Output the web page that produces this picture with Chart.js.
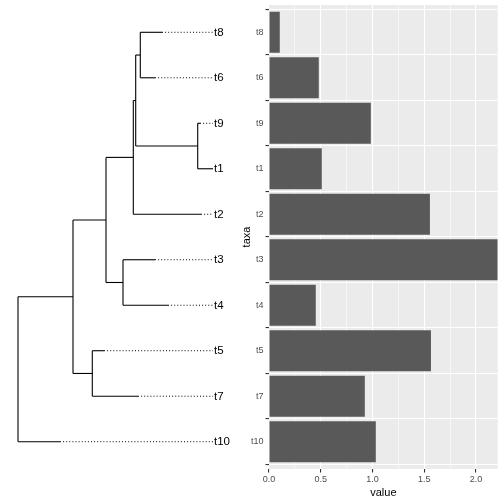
<!DOCTYPE html>
<html>
<head>
<meta charset="utf-8">
<script src="https://cdn.jsdelivr.net/npm/chart.js@4.4.1/dist/chart.umd.min.js"></script>
<style>
  body { margin: 0; background: #ffffff; }
  #wrap { position: relative; width: 504px; height: 504px; }
  #treeChart { position: absolute; left: 0; top: 0; }
  #barChart { position: absolute; left: 240px; top: 0; }
</style>
</head>
<body>
<div id="wrap">
  <canvas id="treeChart" width="240" height="504"></canvas>
  <canvas id="barChart" width="264" height="504"></canvas>
</div>
<script>
// taxa, top to bottom
const taxa = ["t8", "t6", "t9", "t1", "t2", "t3", "t4", "t5", "t7", "t10"];
const barValues = [0.104, 0.481, 0.984, 0.510, 1.555, 2.21, 0.452, 1.565, 0.926, 1.032];

// tree: tip depths (same order as taxa) and internal nodes
const tipDepth = [1.44, 1.37, 1.82, 1.95, 1.83, 1.37, 1.50, 0.86, 1.20, 0.42];
const nodeNames = ["root", "n1", "n2", "n3", "n4", "n5", "n6", "n7", "n8"];
const nodeDepth = [0, 0.55, 0.88, 1.153, 1.05, 1.177, 1.797, 1.223, 0.743];
const nodeChildren = [
    ["n1", "t10"],
    ["n2", "n8"],
    ["n3", "n4"],
    ["n5", "t2"],
    ["t3", "t4"],
    ["n7", "n6"],
    ["t9", "t1"],
    ["t8", "t6"],
    ["t5", "t7"]
];

const valueTicks = [0, 0.5, 1, 1.5, 2];
const minorTicks = [0.25, 0.75, 1.25, 1.75];
const valueMax = 2.21;

Chart.defaults.font.family = '"Liberation Sans", Arial, sans-serif';

function taxonPos(name) {
    return taxa.length - taxa.indexOf(name);
}

function depthOf(name) {
    const k = nodeNames.indexOf(name);
    if (k >= 0) return nodeDepth[k];
    return tipDepth[taxa.indexOf(name)];
}

function posOf(name) {
    const k = nodeNames.indexOf(name);
    if (k < 0) return taxonPos(name);
    const kids = nodeChildren[k];
    return (posOf(kids[0]) + posOf(kids[1])) / 2;
}

const alignX = Math.max.apply(null, tipDepth);
const labelX = alignX + 0.01;

// build tree segments
const treeSets = [];
function seg(x1, y1, x2, y2, dotted) {
    treeSets.push({
        data: [{ x: x1, y: y1 }, { x: x2, y: y2 }],
        showLine: true,
        borderColor: "#000000",
        borderWidth: dotted ? 1 : 1.1,
        borderDash: dotted ? [1, 2.1] : [],
        pointRadius: 0,
        pointHoverRadius: 0
    });
}

nodeNames.forEach(function (name, k) {
    const kids = nodeChildren[k];
    const x = nodeDepth[k];
    seg(x, posOf(kids[0]), x, posOf(kids[1]), false);
    kids.forEach(function (c) {
        seg(x, posOf(c), depthOf(c), posOf(c), false);
    });
});

taxa.forEach(function (t, i) {
    if (tipDepth[i] < alignX) {
        seg(tipDepth[i], taxonPos(t), alignX, taxonPos(t), true);
    }
});

const tipLabels = {
    id: "tipLabels",
    afterDatasetsDraw: function (chart) {
        const ctx = chart.ctx;
        const xs = chart.scales.x;
        const ys = chart.scales.y;
        ctx.save();
        ctx.font = '11.5px "Liberation Sans", Arial, sans-serif';
        ctx.fillStyle = "#000000";
        ctx.textBaseline = "middle";
        ctx.textAlign = "left";
        taxa.forEach(function (t) {
            ctx.fillText(t, xs.getPixelForValue(labelX), ys.getPixelForValue(taxonPos(t)) + 0.5);
        });
        ctx.restore();
    }
};

new Chart(document.getElementById("treeChart"), {
    type: "scatter",
    data: { datasets: treeSets },
    options: {
        responsive: false,
        animation: false,
        layout: { padding: { top: 5, bottom: 35, left: 0, right: 0 } },
        plugins: {
            legend: { display: false },
            tooltip: { enabled: false }
        },
        scales: {
            x: { type: "linear", min: -0.18, max: 2.22, display: false },
            y: { type: "linear", min: 0.4, max: 10.6, display: false }
        }
    },
    plugins: [tipLabels]
});

const panelBg = {
    id: "panelBg",
    beforeDraw: function (chart) {
        const a = chart.chartArea;
        chart.ctx.save();
        chart.ctx.fillStyle = "#EBEBEB";
        chart.ctx.fillRect(a.left, a.top, a.right - a.left, a.bottom - a.top);
        chart.ctx.restore();
    }
};

function isMajor(v) {
    return valueTicks.some(function (m) { return Math.abs(m - v) < 1e-9; });
}

new Chart(document.getElementById("barChart"), {
    type: "bar",
    data: {
        datasets: [
            {
                label: "value",
                data: taxa.map(function (t, i) {
                    return { x: barValues[i], y: taxonPos(t) };
                }),
                backgroundColor: "#595959",
                barPercentage: 0.9,
                categoryPercentage: 1
            }
        ]
    },
    options: {
        indexAxis: "y",
        responsive: false,
        animation: false,
        layout: { padding: { top: 5, right: 6.3, bottom: 0, left: 0 } },
        plugins: {
            legend: { display: false },
            tooltip: { enabled: false }
        },
        scales: {
            x: {
                type: "linear",
                min: 0,
                max: valueMax,
                afterBuildTicks: function (s) {
                    s.ticks = valueTicks.concat(minorTicks)
                        .sort(function (a, b) { return a - b; })
                        .map(function (v) { return { value: v }; });
                },
                afterFit: function (s) {
                    s.height = 35;
                    s.paddingLeft = 0;
                    s.paddingRight = 0;
                },
                ticks: {
                    autoSkip: false,
                    maxRotation: 0,
                    padding: 2,
                    color: "#4D4D4D",
                    font: { size: 9 },
                    callback: function (v) {
                        return isMajor(v) ? v.toFixed(1) : "";
                    }
                },
                grid: {
                    color: "#FFFFFF",
                    lineWidth: function (c) {
                        return isMajor(c.tick.value) ? 1.1 : 0.55;
                    },
                    tickColor: function (c) {
                        return isMajor(c.tick.value) ? "#333333" : "rgba(0,0,0,0)";
                    },
                    tickLength: 3.5,
                    tickWidth: 1.1
                },
                border: { display: false },
                title: {
                    display: true,
                    text: "value",
                    color: "#000000",
                    font: { size: 11 },
                    padding: { top: 0, bottom: 4 }
                }
            },
            y: {
                type: "linear",
                min: 0.4,
                max: 10.6,
                offset: false,
                afterBuildTicks: function (s) {
                    s.ticks = taxa.map(function (t) { return { value: taxonPos(t) }; });
                },
                afterFit: function (s) {
                    s.width = 29;
                    s.paddingTop = 0;
                    s.paddingBottom = 0;
                },
                ticks: {
                    autoSkip: false,
                    padding: 2,
                    color: "#4D4D4D",
                    font: { size: 9 },
                    callback: function (v) {
                        return taxa[taxa.length - v];
                    }
                },
                grid: {
                    color: "#FFFFFF",
                    lineWidth: 1.1,
                    tickColor: "#333333",
                    tickLength: 3.5,
                    tickWidth: 1.1
                },
                border: { display: false },
                title: {
                    display: true,
                    text: "taxa",
                    color: "#000000",
                    font: { size: 11 },
                    padding: { top: 0, bottom: 0 }
                }
            }
        }
    },
    plugins: [panelBg]
});
</script>
</body>
</html>
